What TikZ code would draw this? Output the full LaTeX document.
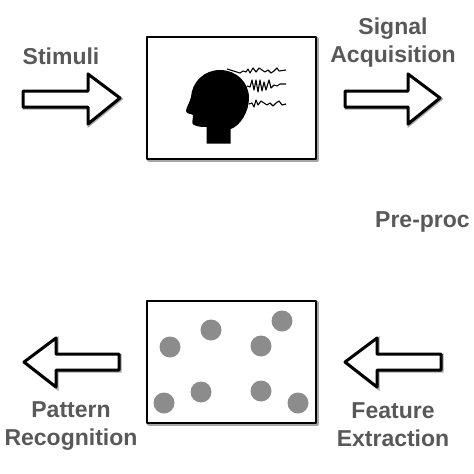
\documentclass[tikz,border=0pt]{standalone}
\usepackage{fontspec}
\setmainfont{Liberation Sans}
\definecolor{lab}{RGB}{88,88,88}
\definecolor{dot}{RGB}{140,140,140}
\tikzset{
  x=1pt,y=-1pt,
  lbl/.style={inner sep=0pt,text=lab,align=center,font=\fontsize{23}{28}\selectfont\bfseries},
  frame/.style={draw=black,line width=2.8pt,line join=round,fill=white,
    preaction={draw=black!35,line width=3pt,transform canvas={xshift=1pt,yshift=-1pt}}},
  arr/.style={draw=black,line width=3pt,line join=round,fill=white,
    preaction={draw=black!35,line width=3pt,transform canvas={xshift=1pt,yshift=-1pt}}},
  spot/.style={circle,fill=dot,inner sep=0pt,minimum size=21pt},
  wave/.style={draw=black,line width=1.1pt,line join=round},
}
\begin{document}
\begin{tikzpicture}
\useasboundingbox (0,0) rectangle (474,474);
% boxes
\node[frame,minimum width=169pt,minimum height=122pt,inner sep=0pt] (top) at (231.5,98) {};
\node[frame,minimum width=169pt,minimum height=122pt,inner sep=0pt] (bot) at (231.5,362) {};
% arrows
\draw[arr] (23,91)--(88,91)--(88,74)--(120,98)--(88,124)--(88,107)--(23,107)--cycle;
\draw[arr] (345,91)--(408,91)--(408,74)--(440,98)--(408,124)--(408,107)--(345,107)--cycle;
\draw[arr] (119,354)--(56,354)--(56,338)--(24,362)--(56,387)--(56,370)--(119,370)--cycle;
\draw[arr] (441,354)--(377,354)--(377,338)--(345,362)--(377,387)--(377,370)--(441,370)--cycle;
% labels
\node[lbl] (l1) at (61,56.5) {Stimuli};
\node[lbl] (l2) at (393,42.5) {Signal\\Acquisition};
\node[lbl,anchor=west] (l3) at (375,222) {Pre-proc};
\node[lbl] (l4) at (71,426.5) {Pattern\\Recognition};
\node[lbl] (l5) at (393,425) {Feature\\Extraction};
% head
\fill[black] (206.7,143.5)--(230.7,143.5)--(230.7,129)
  .. controls (240,126) and (249,112) .. (249,98)
  .. controls (249,82) and (236,70) .. (220,70)
  .. controls (204,70) and (192,82) .. (191,97)
  .. controls (190,102) and (186,108) .. (186,111)
  .. controls (186,114) and (192,114) .. (193,115)
  .. controls (193,120) and (191,124) .. (194,125)
  .. controls (198,127) and (203,127) .. (206.7,127)--cycle;
% waves
\draw[wave] (227,69)--(240,73)--(243,71)--(246,72)--(248,69)--(250,73)--(253,68)--(256,72)--(259,68)--(262,70)--(265,72)--(268,70)--(271,73)--(274,71)--(277,68)--(279,71)--(286,70);
\draw[wave] (247,86)--(250,87)--(252,80)--(254,90)--(256,80)--(258,92)--(260,80)--(262,91)--(264,82)--(266,90)--(269,80)--(271,88)--(274,85)--(277,86)--(280,84)--(286,84);
\draw[wave] (249,104)--(252,103)--(254,107)--(256,100)--(258,105)--(261,101)--(264,103)--(267,105)--(270,103)--(273,106)--(276,103)--(279,101)--(282,105)--(286,104);
% dots
\node[spot] (d1) at (170,347) {};
\node[spot] (d2) at (211,330) {};
\node[spot] (d3) at (282,321) {};
\node[spot] (d4) at (261,346) {};
\node[spot] (d5) at (164,403) {};
\node[spot] (d6) at (201,392) {};
\node[spot] (d7) at (261,391) {};
\node[spot] (d8) at (298,403) {};
\end{tikzpicture}
\end{document}
